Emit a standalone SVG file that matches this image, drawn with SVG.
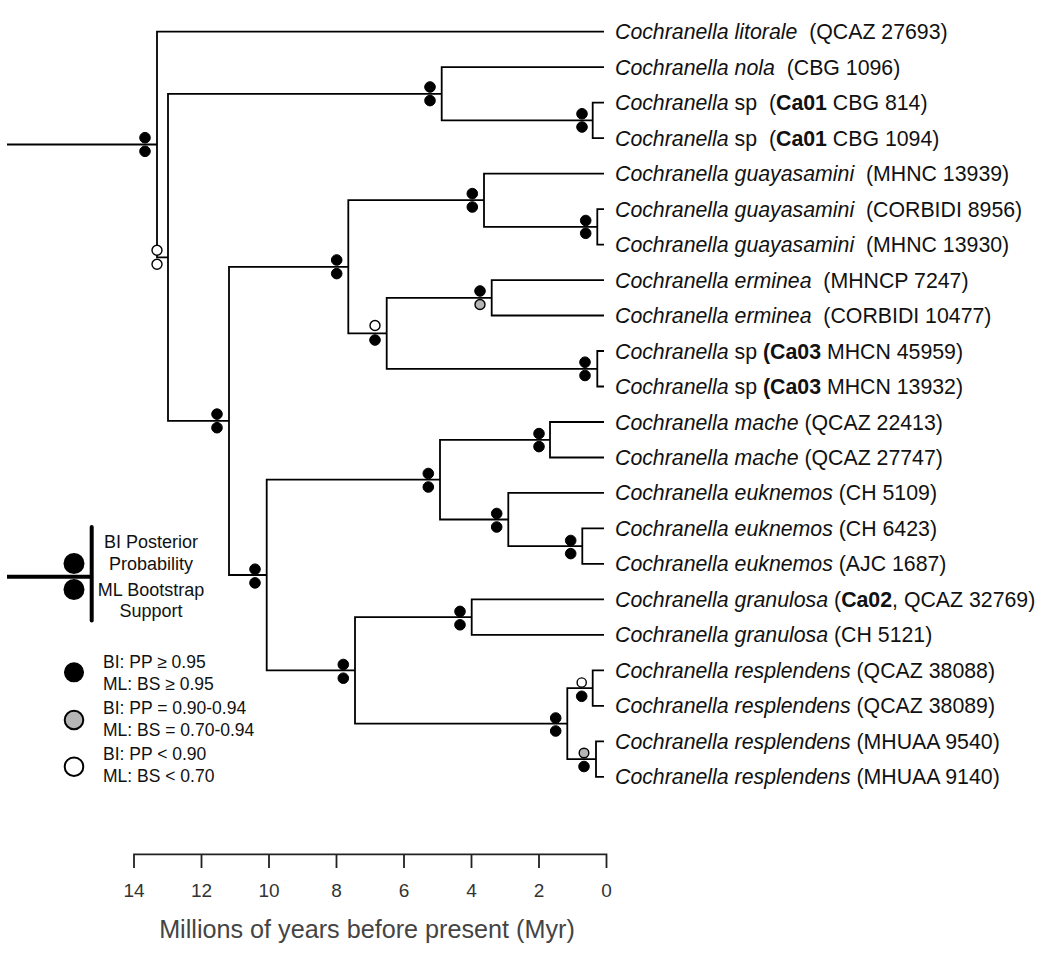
<svg xmlns="http://www.w3.org/2000/svg" width="1044" height="970" viewBox="0 0 1044 970">
<style>
.br{stroke:#000;stroke-width:1.8;fill:none}
.b{fill:#000;stroke:#000;stroke-width:1}
.w{fill:#fff;stroke:#000;stroke-width:1.4}
.g{fill:#b5b5b5;stroke:#000;stroke-width:1.4}
.tip{font-family:"Liberation Sans",Arial,sans-serif;font-size:21.3px;fill:#111;white-space:pre}
.i{font-style:italic}
.bd{font-weight:bold}
.lg{font-family:"Liberation Sans",Arial,sans-serif;font-size:17.5px;fill:#111}
.lc{font-family:"Liberation Sans",Arial,sans-serif;font-size:18px;fill:#111;text-anchor:middle}
.tk{font-family:"Liberation Sans",Arial,sans-serif;font-size:19px;fill:#333;text-anchor:middle}
.ax{stroke:#222;stroke-width:1.8;fill:none}
</style>
<rect width="1044" height="970" fill="#fff"/>
<g id="connectors" class="br">
<path d="M7 144.5H157"/>
<path d="M604 31.7H157V257.3H168"/>
<path d="M441.7 93.8H168V420.9H229"/>
<path d="M604 67.2H441.7V120.4H592.7"/>
<path d="M604 102.7H592.7V138.1H604"/>
<path d="M348.3 266.8H229V575H266.7"/>
<path d="M484 200.2H348.3V333.3H386.7"/>
<path d="M604 173.6H484V226.9H597.3"/>
<path d="M604 209.1H597.3V244.6H604"/>
<path d="M491.7 297.8H386.7V368.8H597.3"/>
<path d="M604 280.1H491.7V315.5H604"/>
<path d="M604 351H597.3V386.5H604"/>
<path d="M440 479.7H266.7V670.4H355"/>
<path d="M550 439.8H440V519.5H508.3"/>
<path d="M604 422H550V457.5H604"/>
<path d="M604 492.9H508.3V546.2H582.3"/>
<path d="M604 528.4H582.3V563.9H604"/>
<path d="M471.7 617.2H355V723.6H567.3"/>
<path d="M604 599.4H471.7V634.9H604"/>
<path d="M592.7 688.1H567.3V759.1H596"/>
<path d="M604 670.3H592.7V705.8H604"/>
<path d="M604 741.3H596V776.8H604"/>
</g>
<g id="supports">
<g id="n-root"><circle class="b" cx="145" cy="137.7" r="5.3"/><circle class="b" cx="145" cy="151.3" r="5.3"/></g>
<g id="n1"><circle class="w" cx="157" cy="250.3" r="5"/><circle class="w" cx="157" cy="264.3" r="5"/></g>
<g id="n2"><circle class="b" cx="430" cy="87" r="5.3"/><circle class="b" cx="430" cy="100.6" r="5.3"/></g>
<g id="n3"><circle class="b" cx="582" cy="113.8" r="5.3"/><circle class="b" cx="582" cy="127" r="5.3"/></g>
<g id="n5"><circle class="b" cx="217" cy="414.1" r="5.3"/><circle class="b" cx="217" cy="427.7" r="5.3"/></g>
<g id="n6"><circle class="b" cx="336.7" cy="260" r="5.3"/><circle class="b" cx="336.7" cy="273.6" r="5.3"/></g>
<g id="n7"><circle class="b" cx="472.3" cy="193.6" r="5.3"/><circle class="b" cx="472.3" cy="207" r="5.3"/></g>
<g id="n8"><circle class="b" cx="585.7" cy="220.5" r="5.3"/><circle class="b" cx="585.7" cy="233.3" r="5.3"/></g>
<g id="n9"><circle class="w" cx="375" cy="325.5" r="5"/><circle class="b" cx="375" cy="340" r="5.3"/></g>
<g id="n10"><circle class="b" cx="480" cy="291" r="5.3"/><circle class="g" cx="480" cy="304.5" r="5"/></g>
<g id="n10b"><circle class="b" cx="585" cy="362.2" r="5.3"/><circle class="b" cx="585" cy="375.5" r="5.3"/></g>
<g id="n11"><circle class="b" cx="255" cy="569.2" r="5.3"/><circle class="b" cx="255" cy="582.9" r="5.3"/></g>
<g id="n12"><circle class="b" cx="428.3" cy="473.5" r="5.3"/><circle class="b" cx="428.3" cy="487" r="5.3"/></g>
<g id="n13"><circle class="b" cx="539" cy="433.6" r="5.3"/><circle class="b" cx="539" cy="446.6" r="5.3"/></g>
<g id="n14"><circle class="b" cx="496.7" cy="513.5" r="5.3"/><circle class="b" cx="496.7" cy="527" r="5.3"/></g>
<g id="n15"><circle class="b" cx="570.7" cy="540.5" r="5.3"/><circle class="b" cx="570.7" cy="553.6" r="5.3"/></g>
<g id="n16"><circle class="b" cx="343.3" cy="664.5" r="5.3"/><circle class="b" cx="343.3" cy="678.2" r="5.3"/></g>
<g id="n17"><circle class="b" cx="460" cy="611.4" r="5.3"/><circle class="b" cx="460" cy="624.8" r="5.3"/></g>
<g id="n18"><circle class="b" cx="555.7" cy="718" r="5.3"/><circle class="b" cx="555.7" cy="731" r="5.3"/></g>
<g id="n19"><circle class="w" cx="581.7" cy="682.5" r="4.6"/><circle class="b" cx="581.7" cy="696.3" r="5.3"/></g>
<g id="n20"><circle class="g" cx="584" cy="753" r="4.8"/><circle class="b" cx="584" cy="766.5" r="5.3"/></g>
</g>
<g id="tips">
<g id="t0"><text xml:space="preserve" class="tip" x="615" y="39.2"><tspan class="i">Cochranella litorale</tspan>  (QCAZ 27693)</text></g>
<g id="t1"><text xml:space="preserve" class="tip" x="615" y="74.7"><tspan class="i">Cochranella nola</tspan>  (CBG 1096)</text></g>
<g id="t2"><text xml:space="preserve" class="tip" x="615" y="110.2"><tspan class="i">Cochranella</tspan> sp  (<tspan class="bd">Ca01</tspan> CBG 814)</text></g>
<g id="t3"><text xml:space="preserve" class="tip" x="615" y="145.6"><tspan class="i">Cochranella</tspan> sp  (<tspan class="bd">Ca01</tspan> CBG 1094)</text></g>
<g id="t4"><text xml:space="preserve" class="tip" x="615" y="181.1"><tspan class="i">Cochranella guayasamini</tspan>  (MHNC 13939)</text></g>
<g id="t5"><text xml:space="preserve" class="tip" x="615" y="216.6"><tspan class="i">Cochranella guayasamini</tspan>  (CORBIDI 8956)</text></g>
<g id="t6"><text xml:space="preserve" class="tip" x="615" y="252.1"><tspan class="i">Cochranella guayasamini</tspan>  (MHNC 13930)</text></g>
<g id="t7"><text xml:space="preserve" class="tip" x="615" y="287.6"><tspan class="i">Cochranella erminea</tspan>  (MHNCP 7247)</text></g>
<g id="t8"><text xml:space="preserve" class="tip" x="615" y="323"><tspan class="i">Cochranella erminea</tspan>  (CORBIDI 10477)</text></g>
<g id="t9"><text xml:space="preserve" class="tip" x="615" y="358.5"><tspan class="i">Cochranella</tspan> sp <tspan class="bd">(Ca03</tspan> MHCN 45959)</text></g>
<g id="t10"><text xml:space="preserve" class="tip" x="615" y="394"><tspan class="i">Cochranella</tspan> sp <tspan class="bd">(Ca03</tspan> MHCN 13932)</text></g>
<g id="t11"><text xml:space="preserve" class="tip" x="615" y="429.5"><tspan class="i">Cochranella mache</tspan> (QCAZ 22413)</text></g>
<g id="t12"><text xml:space="preserve" class="tip" x="615" y="465"><tspan class="i">Cochranella mache</tspan> (QCAZ 27747)</text></g>
<g id="t13"><text xml:space="preserve" class="tip" x="615" y="500.4"><tspan class="i">Cochranella euknemos</tspan> (CH 5109)</text></g>
<g id="t14"><text xml:space="preserve" class="tip" x="615" y="535.9"><tspan class="i">Cochranella euknemos</tspan> (CH 6423)</text></g>
<g id="t15"><text xml:space="preserve" class="tip" x="615" y="571.4"><tspan class="i">Cochranella euknemos</tspan> (AJC 1687)</text></g>
<g id="t16"><text xml:space="preserve" class="tip" x="615" y="606.9"><tspan class="i">Cochranella granulosa</tspan> (<tspan class="bd">Ca02</tspan>, QCAZ 32769)</text></g>
<g id="t17"><text xml:space="preserve" class="tip" x="615" y="642.4"><tspan class="i">Cochranella granulosa</tspan> (CH 5121)</text></g>
<g id="t18"><text xml:space="preserve" class="tip" x="615" y="677.8"><tspan class="i">Cochranella resplendens</tspan> (QCAZ 38088)</text></g>
<g id="t19"><text xml:space="preserve" class="tip" x="615" y="713.3"><tspan class="i">Cochranella resplendens</tspan> (QCAZ 38089)</text></g>
<g id="t20"><text xml:space="preserve" class="tip" x="615" y="748.8"><tspan class="i">Cochranella resplendens</tspan> (MHUAA 9540)</text></g>
<g id="t21"><text xml:space="preserve" class="tip" x="615" y="784.3"><tspan class="i">Cochranella resplendens</tspan> (MHUAA 9140)</text></g>
</g>
<g id="legend-node">
<line x1="7" y1="576.7" x2="91.7" y2="576.7" stroke="#000" stroke-width="4"/>
<line x1="91.7" y1="527" x2="91.7" y2="620.5" stroke="#000" stroke-width="4" stroke-linecap="round"/>
<circle cx="74" cy="563.5" r="10.5" fill="#000"/>
<circle cx="74" cy="589.5" r="10.5" fill="#000"/>
<text class="lc" x="151" y="548.3">BI Posterior</text>
<text class="lc" x="151" y="569.5">Probability</text>
<text class="lc" x="151" y="596">ML Bootstrap</text>
<text class="lc" x="151" y="617.3">Support</text>
</g>
<g id="legend-key">
<circle cx="74" cy="672.3" r="9.3" fill="#000" stroke="#000" stroke-width="1.5"/>
<circle cx="74" cy="720" r="9.3" fill="#b5b5b5" stroke="#000" stroke-width="2"/>
<circle cx="74" cy="766.7" r="9.3" fill="#fff" stroke="#000" stroke-width="2"/>
<text class="lg" x="103" y="668.3">BI: PP ≥ 0.95</text>
<text class="lg" x="103" y="690">ML: BS ≥ 0.95</text>
<text class="lg" x="103" y="714">BI: PP = 0.90-0.94</text>
<text class="lg" x="103" y="735.5">ML: BS = 0.70-0.94</text>
<text class="lg" x="103" y="759.5">BI: PP &lt; 0.90</text>
<text class="lg" x="103" y="781.5">ML: BS &lt; 0.70</text>
</g>
<g id="axis">
<path class="ax" d="M134 868V854.3H606.5V868M201.5 854.3V868M269 854.3V868M336.5 854.3V868M404 854.3V868M471.5 854.3V868M539 854.3V868"/>
<text class="tk" x="134" y="897">14</text>
<text class="tk" x="201.5" y="897">12</text>
<text class="tk" x="269" y="897">10</text>
<text class="tk" x="336.5" y="897">8</text>
<text class="tk" x="404" y="897">6</text>
<text class="tk" x="471.5" y="897">4</text>
<text class="tk" x="539" y="897">2</text>
<text class="tk" x="606.5" y="897">0</text>
<text x="367" y="937.5" text-anchor="middle" font-family="Liberation Sans, Arial, sans-serif" font-size="25.2" fill="#444">Millions of years before present (Myr)</text>
</g>
</svg>
